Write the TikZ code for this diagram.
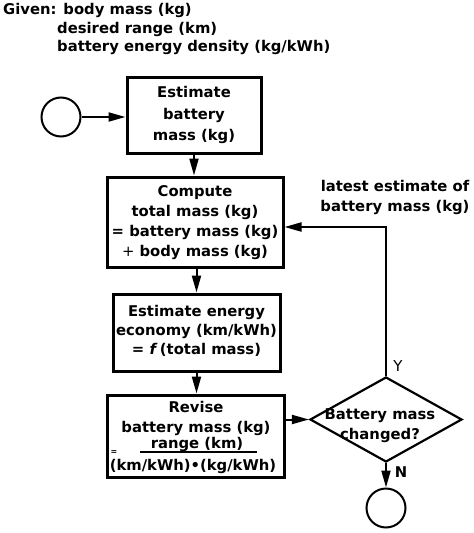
\documentclass[tikz,border=0pt]{standalone}
\usepackage{fontspec}
\setmainfont{DejaVu Sans}
\usetikzlibrary{shapes.geometric,arrows.meta}
\begin{document}
\begin{tikzpicture}[x=1pt,y=-1pt,
  font=\bfseries\fontsize{14.8}{20}\selectfont,
  box/.style={draw, line width=3pt, inner sep=0pt},
  txt/.style={align=center, inner sep=0pt},
  arr/.style={line width=2pt, -{Triangle[length=17pt,width=9pt]}},
  term/.style={circle, draw, line width=2pt, minimum size=39pt, inner sep=0pt}]
\useasboundingbox[fill=white] (0,0) rectangle (474,533);

% given
\node[anchor=west, inner sep=0pt] (g1) at (3,10) {Given: body mass (kg)};
\node[anchor=west, inner sep=0pt] (g2) at (57,29) {desired range (km)};
\node[anchor=west, inner sep=0pt] (g3) at (57,47) {battery energy density (kg/kWh)};

% start
\node[term] (start) at (61,117) {};

% boxes
\node[box, minimum width=134pt, minimum height=76pt] (b1) at (194,115) {};
\node[txt, font=\bfseries\fontsize{14.8}{21.5}\selectfont] (t1) at (194,115) {Estimate\\battery\\mass (kg)};

\node[box, minimum width=176pt, minimum height=90pt] (b2) at (195,222) {};
\node[txt] (t2) at (195,222.5) {Compute\\total mass (kg)\\= battery mass (kg)\\\textmd{+} body mass (kg)};

\node[box, minimum width=167pt, minimum height=77pt] (b3) at (196.5,332.5) {};
\node[txt, font=\bfseries\fontsize{14.8}{19}\selectfont] (t3) at (196.5,331) {Estimate energy\\economy (km/kWh)\\= \textit{f}\,(total mass)};

\node[box, minimum width=177pt, minimum height=82pt] (b4) at (195.5,436) {};
\node[txt] (t4a) at (196,407) {Revise};
\node[txt] (t4b) at (196,428) {battery mass (kg)};
\node[txt] (t4c) at (197,444) {range (km)};
\coordinate (fl) at (140,452);
\coordinate (fr) at (257,452);
\draw[line width=2pt] (fl) -- (fr);
\node[txt, font=\bfseries\fontsize{8}{8}\selectfont] (eq) at (114,453) {=};
\node[txt] (t4d) at (193,466) {(km/kWh)•(kg/kWh)};

% decision
\node[diamond, draw, line width=2.2pt, minimum width=152pt, minimum height=85pt, inner sep=0pt] (dec) at (386,419.5) {};
\node[txt] (dt) at (380,426) {Battery mass\\changed?};

% end
\node[term] (end) at (386,508) {};

% connectors
\draw[arr] (start) -- (b1.west |- start);
\draw[arr] (b1.south) -- (b1.south |- b2.north);
\draw[arr] (b2.south -| t3) -- (b3.north -| t3);
\draw[arr] (b3.south -| t3) -- (b4.north -| t3);
\draw[arr] (b4.east |- dec) -- (dec.west);
\coordinate (corner) at (386,227);
\draw[arr] (dec.north) -- (corner) -- (b2.east |- corner);
\draw[arr] (dec.south) -- (end.north);

% labels
\node[txt] (lab) at (395,197) {latest estimate of\\battery mass (kg)};
\node[txt, font=\mdseries\fontsize{15}{15}\selectfont] (ylab) at (398,366) {Y};
\node[txt] (nlab) at (401,472) {N};
\end{tikzpicture}
\end{document}
